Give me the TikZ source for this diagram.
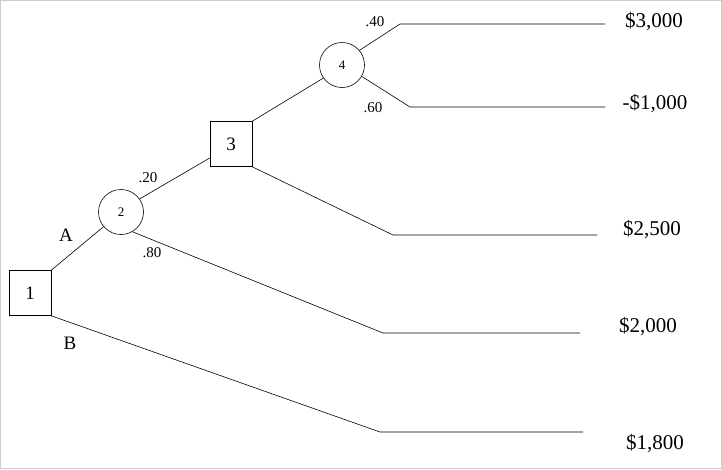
\documentclass[tikz,border=0pt]{standalone}
\usepackage{fontspec}
\setmainfont{Liberation Serif}
\begin{document}
\begin{tikzpicture}[x=1pt,y=-1pt,
  decbox/.style={draw,line width=0.6pt,minimum width=42pt,minimum height=45pt,inner sep=0pt,font=\fontsize{19}{19}\selectfont},
  chance/.style={draw,line width=0.6pt,circle,minimum size=45pt,inner sep=0pt,font=\fontsize{13}{13}\selectfont},
  pay/.style={font=\fontsize{21}{21}\selectfont},
  prob/.style={font=\fontsize{15}{15}\selectfont},
  ln/.style={line width=0.6pt}]
\useasboundingbox (0,0) rectangle (722,469);
\draw[gray!40] (0.5,0.5) rectangle (721.5,468.5);
\node[decbox] (n1) at (30,293) {1};
\node[chance] (n2) at (121,212) {2};
\node[decbox] (n3) at (231,144) {3};
\node[chance] (n4) at (342,65) {4};
\coordinate (p1) at (400,24); \coordinate (q1) at (605,24);
\coordinate (p2) at (410,107); \coordinate (q2) at (605,107);
\coordinate (p3) at (393,235); \coordinate (q3) at (597,235);
\coordinate (p4) at (383,333); \coordinate (q4) at (580,333);
\coordinate (p5) at (380,432); \coordinate (q5) at (583,432);
\draw[ln] (n1.north east) -- (n2.220);
\draw[ln] (n2.35) -- (n3.south west |- 0,158) ;
\draw[ln] (n3.north east) -- (n4.215);
\draw[ln] (n4.40) -- (p1) -- (q1);
\draw[ln] (n4.-30) -- (p2) -- (q2);
\draw[ln] (n3.south east) -- (p3) -- (q3);
\draw[ln] (n2.-60) -- (p4) -- (q4);
\draw[ln] (n1.south east) -- (p5) -- (q5);
\node[pay] (t1) at (654,22) {\$3,000};
\node[pay] (t2) at (655,104) {-\$1,000};
\node[pay] (t3) at (652,230) {\$2,500};
\node[pay] (t4) at (648,327) {\$2,000};
\node[pay] (t5) at (655,444) {\$1,800};
\node[pay,font=\fontsize{19}{19}\selectfont] (la) at (66,235) {A};
\node[pay,font=\fontsize{19}{19}\selectfont] (lb) at (70,343) {B};
\node[prob] (l20) at (148,178) {.20};
\node[prob] (l80) at (152,253) {.80};
\node[prob] (l40) at (375,22) {.40};
\node[prob] (l60) at (373,108) {.60};
\end{tikzpicture}
\end{document}
